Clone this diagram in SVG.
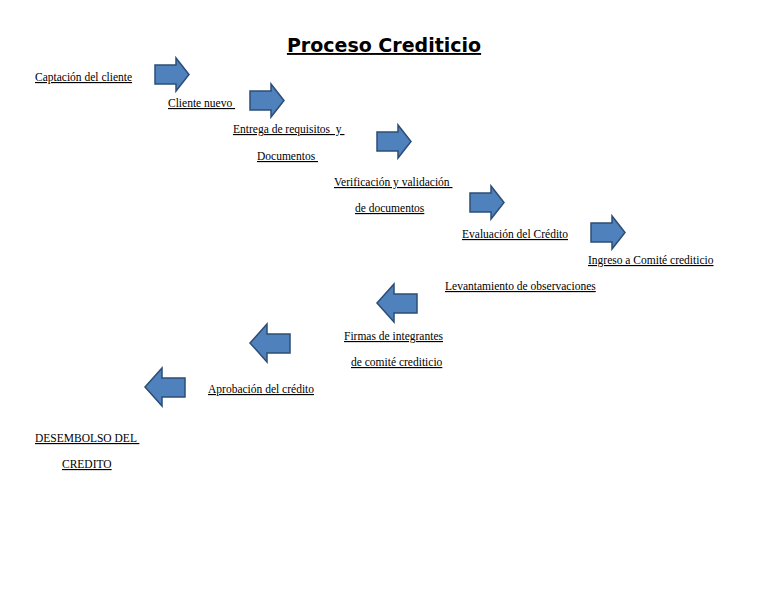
<svg xmlns="http://www.w3.org/2000/svg" width="768" height="594" viewBox="0 0 768 594">
<style>
.t{font-family:"Liberation Serif","DejaVu Serif",serif;font-size:11.5px;fill:#000;text-decoration:underline}
.h{font-family:"DejaVu Sans","Noto Sans",sans-serif;font-size:19px;font-weight:bold;text-decoration:underline}
.a{fill:#4f81bd;stroke:#2c4d75;stroke-width:1.5}
</style>
<defs>
<path id="r" d="M0,7 H21 V0 L34,16.5 L21,33 V26 H0 Z"/>
<path id="l" d="M40,10 H17 V0 L0,19 L17,38 V29 H40 Z"/>
</defs>
<rect width="768" height="594" fill="#fff"/>
<text class="h" x="384" y="52" text-anchor="middle">Proceso Crediticio</text>
<g id="connectors">
<use href="#r" class="a" x="155" y="58"/>
<use href="#r" class="a" x="250" y="84"/>
<use href="#r" class="a" x="377" y="125"/>
<use href="#r" class="a" x="470" y="186"/>
<use href="#r" class="a" x="591" y="216"/>
<use href="#l" class="a" x="377" y="284"/>
<use href="#l" class="a" x="250" y="324"/>
<use href="#l" class="a" x="145" y="368"/>
</g>
<g id="n1"><text class="t" x="35" y="81">Captación del cliente</text></g>
<g id="n2"><text class="t" x="168" y="107" xml:space="preserve">Cliente nuevo </text></g>
<g id="n3"><text class="t" x="233" y="133" xml:space="preserve">Entrega de requisitos  y </text><text class="t" x="257" y="160" xml:space="preserve">Documentos </text></g>
<g id="n4"><text class="t" x="334" y="186" xml:space="preserve">Verificación y validación </text><text class="t" x="355" y="212">de documentos</text></g>
<g id="n5"><text class="t" x="462" y="238">Evaluación del Crédito</text></g>
<g id="n6"><text class="t" x="588" y="264">Ingreso a Comité crediticio</text></g>
<g id="n7"><text class="t" x="445" y="290">Levantamiento de observaciones</text></g>
<g id="n8"><text class="t" x="344" y="340">Firmas de integrantes</text><text class="t" x="351" y="366">de comité crediticio</text></g>
<g id="n9"><text class="t" x="208" y="393">Aprobación del crédito</text></g>
<g id="n10"><text class="t" x="35" y="442" xml:space="preserve">DESEMBOLSO DEL </text><text class="t" x="62" y="468">CREDITO</text></g>
</svg>
